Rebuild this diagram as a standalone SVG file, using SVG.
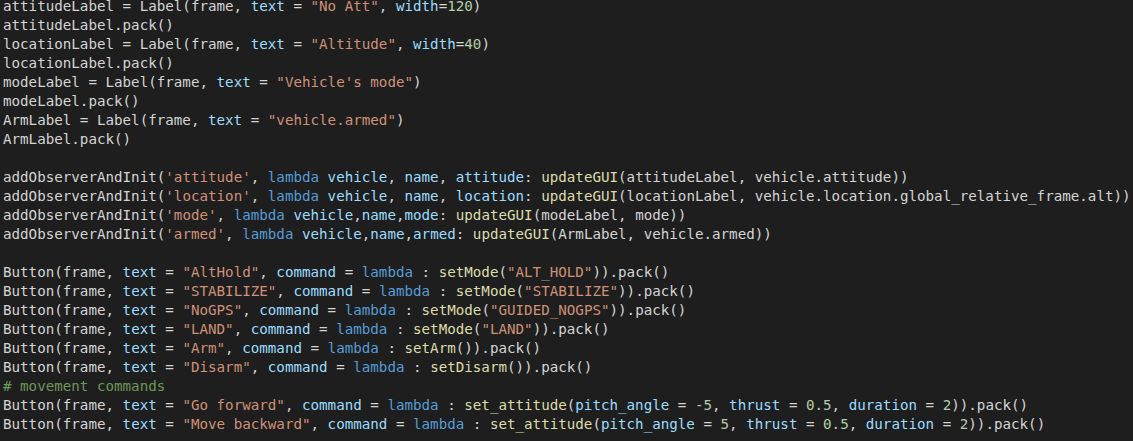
<svg xmlns="http://www.w3.org/2000/svg" width="1133" height="441" viewBox="0 0 1133 441">
<style>
text{font-family:"DejaVu Sans Mono",monospace;font-size:14.2px;fill:#d4d4d4;white-space:pre}
.s{fill:#ce9178}.k{fill:#569cd6}.v{fill:#9cdcfe}.f{fill:#dcdcaa}.n{fill:#b5cea8}.c{fill:#6a9955}
</style>
<rect width="1133" height="441" fill="#1e1e1e"/>
<g id="code" transform="translate(3,0)">
<text y="11">attitudeLabel = Label(frame, <tspan class="v">text</tspan> = <tspan class="s">"No Att"</tspan>, <tspan class="v">width</tspan>=<tspan class="n">120</tspan>)</text>
<text y="30">attitudeLabel.pack()</text>
<text y="49">locationLabel = Label(frame, <tspan class="v">text</tspan> = <tspan class="s">"Altitude"</tspan>, <tspan class="v">width</tspan>=<tspan class="n">40</tspan>)</text>
<text y="68">locationLabel.pack()</text>
<text y="87">modeLabel = Label(frame, <tspan class="v">text</tspan> = <tspan class="s">"Vehicle's mode"</tspan>)</text>
<text y="106">modeLabel.pack()</text>
<text y="125">ArmLabel = Label(frame, <tspan class="v">text</tspan> = <tspan class="s">"vehicle.armed"</tspan>)</text>
<text y="144">ArmLabel.pack()</text>
<text y="182">addObserverAndInit(<tspan class="s">'attitude'</tspan>, <tspan class="k">lambda</tspan> <tspan class="v">vehicle</tspan>, <tspan class="v">name</tspan>, <tspan class="v">attitude</tspan>: <tspan class="f">updateGUI</tspan>(attitudeLabel, vehicle.attitude))</text>
<text y="201">addObserverAndInit(<tspan class="s">'location'</tspan>, <tspan class="k">lambda</tspan> <tspan class="v">vehicle</tspan>, <tspan class="v">name</tspan>, <tspan class="v">location</tspan>: <tspan class="f">updateGUI</tspan>(locationLabel, vehicle.location.global_relative_frame.alt))</text>
<text y="220">addObserverAndInit(<tspan class="s">'mode'</tspan>, <tspan class="k">lambda</tspan> <tspan class="v">vehicle</tspan>,<tspan class="v">name</tspan>,<tspan class="v">mode</tspan>: <tspan class="f">updateGUI</tspan>(modeLabel, mode))</text>
<text y="239">addObserverAndInit(<tspan class="s">'armed'</tspan>, <tspan class="k">lambda</tspan> <tspan class="v">vehicle</tspan>,<tspan class="v">name</tspan>,<tspan class="v">armed</tspan>: <tspan class="f">updateGUI</tspan>(ArmLabel, vehicle.armed))</text>
<text y="277">Button(frame, <tspan class="v">text</tspan> = <tspan class="s">"AltHold"</tspan>, <tspan class="v">command</tspan> = <tspan class="k">lambda</tspan> : <tspan class="f">setMode</tspan>(<tspan class="s">"ALT_HOLD"</tspan>)).pack()</text>
<text y="296">Button(frame, <tspan class="v">text</tspan> = <tspan class="s">"STABILIZE"</tspan>, <tspan class="v">command</tspan> = <tspan class="k">lambda</tspan> : <tspan class="f">setMode</tspan>(<tspan class="s">"STABILIZE"</tspan>)).pack()</text>
<text y="315">Button(frame, <tspan class="v">text</tspan> = <tspan class="s">"NoGPS"</tspan>, <tspan class="v">command</tspan> = <tspan class="k">lambda</tspan> : <tspan class="f">setMode</tspan>(<tspan class="s">"GUIDED_NOGPS"</tspan>)).pack()</text>
<text y="334">Button(frame, <tspan class="v">text</tspan> = <tspan class="s">"LAND"</tspan>, <tspan class="v">command</tspan> = <tspan class="k">lambda</tspan> : <tspan class="f">setMode</tspan>(<tspan class="s">"LAND"</tspan>)).pack()</text>
<text y="353">Button(frame, <tspan class="v">text</tspan> = <tspan class="s">"Arm"</tspan>, <tspan class="v">command</tspan> = <tspan class="k">lambda</tspan> : <tspan class="f">setArm</tspan>()).pack()</text>
<text y="372">Button(frame, <tspan class="v">text</tspan> = <tspan class="s">"Disarm"</tspan>, <tspan class="v">command</tspan> = <tspan class="k">lambda</tspan> : <tspan class="f">setDisarm</tspan>()).pack()</text>
<text y="391" class="c"># movement commands</text>
<text y="410">Button(frame, <tspan class="v">text</tspan> = <tspan class="s">"Go forward"</tspan>, <tspan class="v">command</tspan> = <tspan class="k">lambda</tspan> : <tspan class="f">set_attitude</tspan>(<tspan class="v">pitch_angle</tspan> = <tspan class="n">-5</tspan>, <tspan class="v">thrust</tspan> = <tspan class="n">0.5</tspan>, <tspan class="v">duration</tspan> = <tspan class="n">2</tspan>)).pack()</text>
<text y="429">Button(frame, <tspan class="v">text</tspan> = <tspan class="s">"Move backward"</tspan>, <tspan class="v">command</tspan> = <tspan class="k">lambda</tspan> : <tspan class="f">set_attitude</tspan>(<tspan class="v">pitch_angle</tspan> = <tspan class="n">5</tspan>, <tspan class="v">thrust</tspan> = <tspan class="n">0.5</tspan>, <tspan class="v">duration</tspan> = <tspan class="n">2</tspan>)).pack()</text>
</g>
</svg>
